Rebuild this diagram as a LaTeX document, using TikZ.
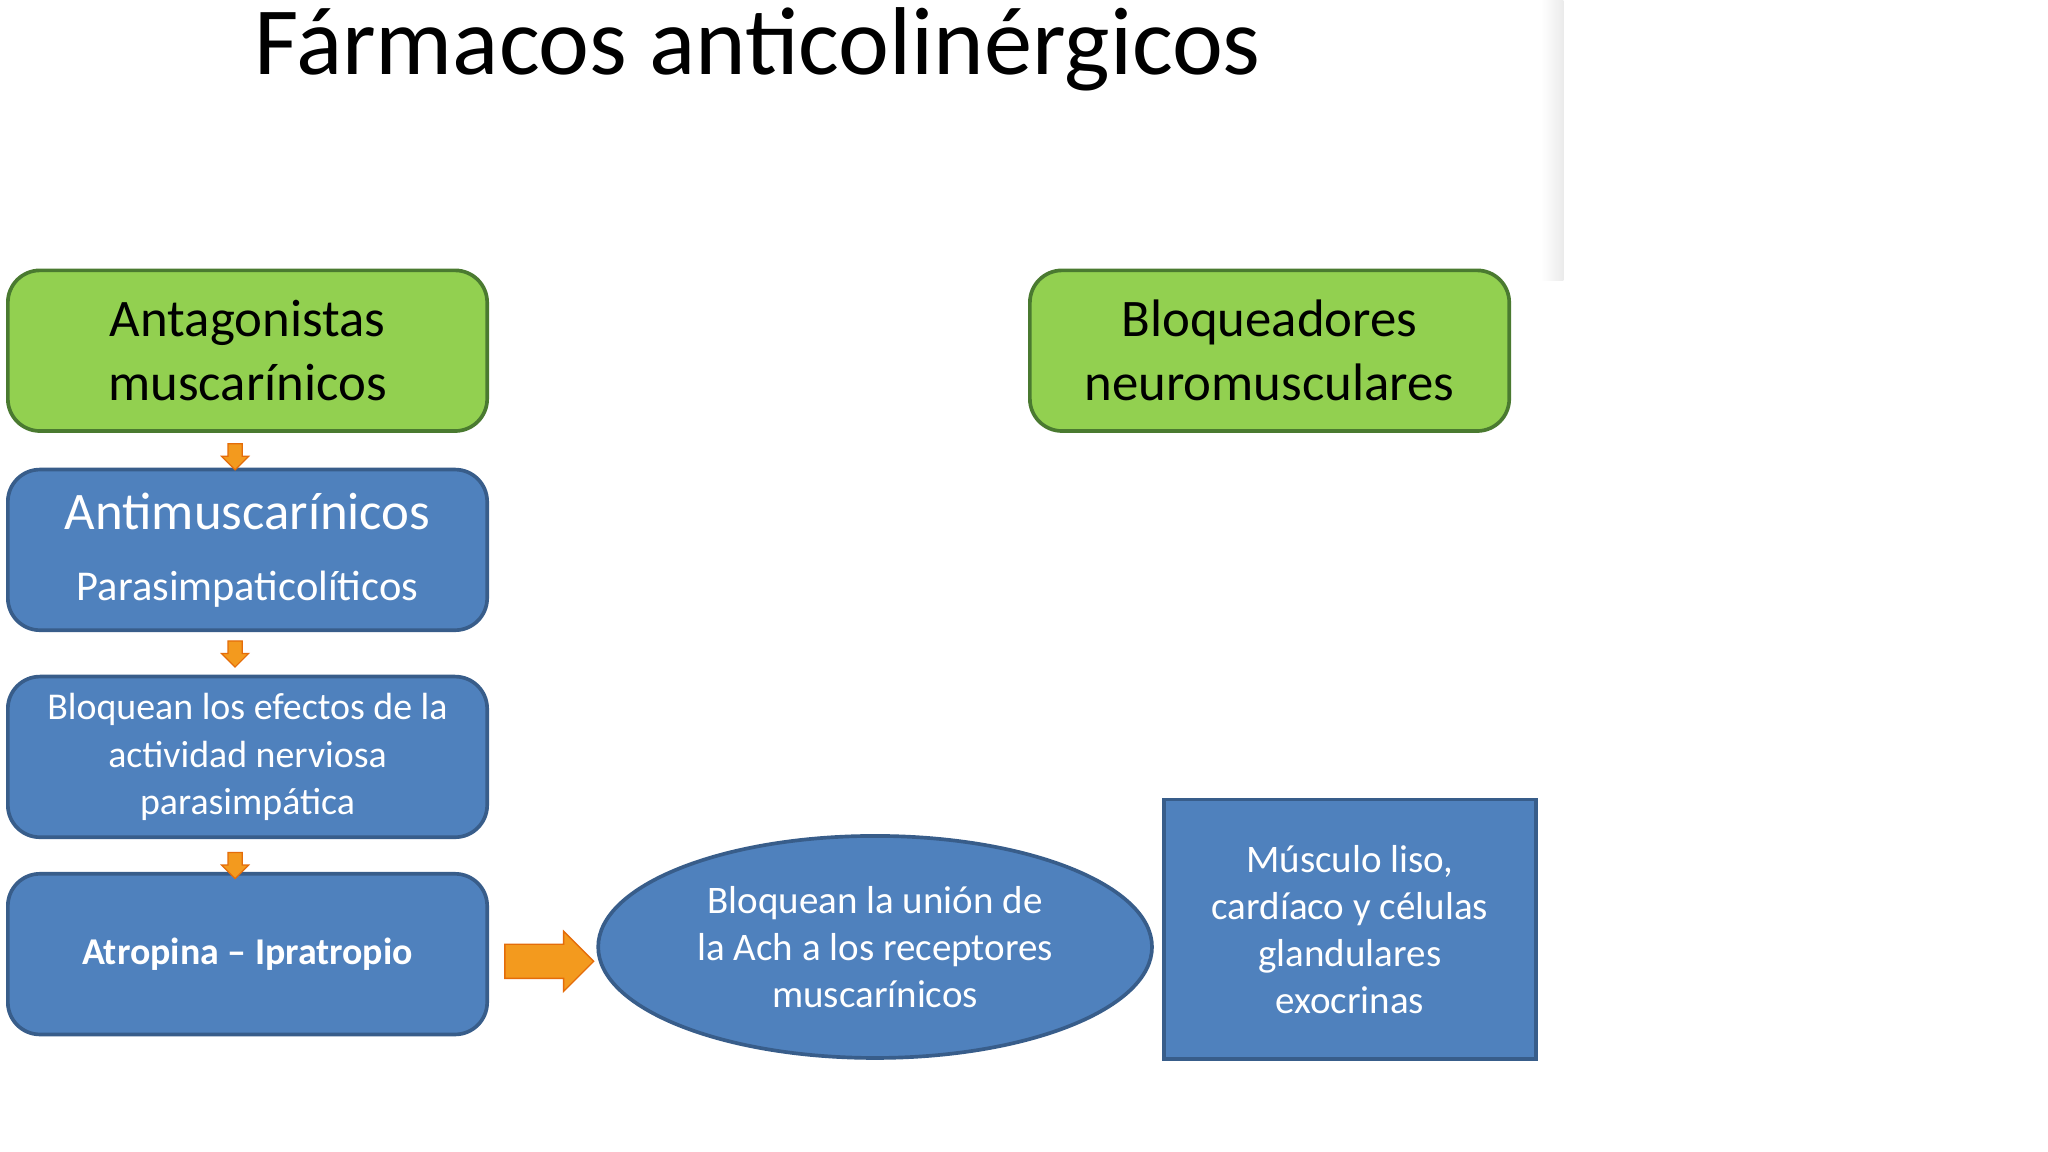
\documentclass[tikz,border=0pt]{standalone}
\usepackage{fontspec}
\setmainfont{Carlito}
\usetikzlibrary{shapes.arrows,shapes.geometric}
\definecolor{gfill}{HTML}{92D050}
\definecolor{gline}{HTML}{4A7A30}
\definecolor{bfill}{HTML}{4F81BD}
\definecolor{bline}{HTML}{385D8A}
\definecolor{orng}{HTML}{F39A1E}
\definecolor{orngd}{HTML}{E46C0A}
\begin{document}
\begin{tikzpicture}[x=0.02cm,y=-0.02cm,
  gbox/.style={draw=gline,line width=1.6pt,fill=gfill,rounded corners=14pt,minimum width=367*0.02cm,minimum height=123*0.02cm,align=center,font=\fontsize{23}{28}\selectfont},
  bbox/.style={draw=bline,line width=1.6pt,fill=bfill,rounded corners=14pt,minimum width=367*0.02cm,minimum height=123*0.02cm,align=center,text=white},
  darr/.style={single arrow,shape border rotate=270,fill=orng,draw=orngd,line width=0.5pt,inner sep=0.1cm,single arrow head extend=0.1cm,minimum height=0.4cm}]
\useasboundingbox (0,0) rectangle (1568,882);
\fill[white] (0,0) rectangle (1568,882);
\shade[left color=white,right color=black!8] (1180,0) rectangle (1197,215);
\node (title) at (580,38) {\fontsize{42}{50}\selectfont Fármacos anticolinérgicos};
\node[gbox] (g1) at (189.5,268.5) {Antagonistas\\muscarínicos};
\node[gbox] (g2) at (972,268.5) {Bloqueadores\\neuromusculares};
\node[bbox,font=\fontsize{18.5}{31}\selectfont] (b1) at (189.5,421) {{\fontsize{23}{28}\selectfont Antimuscarínicos}\\{\fontsize{18.5}{31}\selectfont Parasimpaticolíticos}};
\node[bbox,font=\fontsize{16.5}{20.5}\selectfont] (b2) at (189.5,579.5) {Bloquean los efectos de la\\actividad nerviosa\\parasimpática};
\node[bbox,font=\fontsize{16.5}{20}\selectfont\bfseries] (b3) at (189.5,730.5) {Atropina – Ipratropio};
\node[darr] (a1) at (180,347) {};
\node[darr] (a2) at (180,498) {};
\node[darr] (a3) at (180,660) {};
\node[single arrow,fill=orng,draw=orngd,line width=0.6pt,inner sep=0.25cm,minimum height=68*0.02cm,single arrow head extend=0.2cm] (ar) at (414,736) {};
\node[ellipse,draw=bline,line width=1.6pt,fill=bfill,minimum width=424*0.02cm,minimum height=170*0.02cm,text=white,align=center,font=\fontsize{17}{20.5}\selectfont] (el) at (670,725) {Bloquean la unión de\\la Ach a los receptores\\muscarínicos};
\node[rectangle,draw=bline,line width=1.6pt,fill=bfill,minimum width=285*0.02cm,minimum height=199*0.02cm,text=white,align=center,font=\fontsize{17}{20.5}\selectfont] (mu) at (1033.5,711.5) {Músculo liso,\\cardíaco y células\\glandulares\\exocrinas};
\end{tikzpicture}
\end{document}
